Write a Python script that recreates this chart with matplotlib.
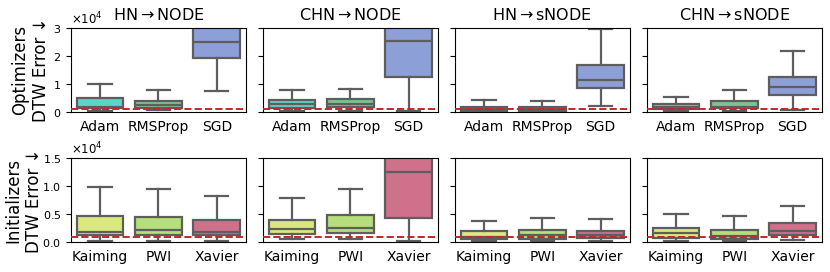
import numpy as np
import matplotlib
matplotlib.use("Agg")
import matplotlib.pyplot as plt
from matplotlib.ticker import ScalarFormatter

titles = [r"HN$\rightarrow$NODE", r"CHN$\rightarrow$NODE", r"HN$\rightarrow$sNODE", r"CHN$\rightarrow$sNODE"]

optimizers = ["Adam", "RMSProp", "SGD"]
opt_colors = ["#5ad6c6", "#7cc590", "#8c9fd6"]
initializers = ["Kaiming", "PWI", "Xavier"]
init_colors = ["#dbe87d", "#b6df7b", "#d0718b"]

# box stats per panel: (whislo, q1, med, q3, whishi), units of 1e4
opt_stats = [
    [(0.02, 0.12, 0.18, 0.48, 1.00), (0.05, 0.13, 0.25, 0.37, 0.76), (0.73, 1.91, 2.50, 3.60, 4.50)],
    [(0.02, 0.13, 0.26, 0.42, 0.79), (0.03, 0.16, 0.28, 0.46, 0.83), (0.04, 1.24, 2.54, 3.60, 5.00)],
    [(0.01, 0.04, 0.10, 0.18, 0.40), (0.01, 0.04, 0.10, 0.18, 0.37), (0.20, 0.84, 1.13, 1.68, 2.95)],
    [(0.01, 0.08, 0.17, 0.26, 0.52), (0.03, 0.13, 0.17, 0.37, 0.77), (0.05, 0.58, 0.89, 1.25, 2.19)],
]
init_stats = [
    [(0.02, 0.12, 0.18, 0.46, 0.99), (0.02, 0.13, 0.22, 0.45, 0.95), (0.02, 0.12, 0.18, 0.40, 0.82)],
    [(0.05, 0.14, 0.24, 0.40, 0.79), (0.05, 0.16, 0.26, 0.48, 0.95), (0.02, 0.43, 1.26, 2.00, 3.00)],
    [(0.02, 0.05, 0.10, 0.19, 0.38), (0.02, 0.06, 0.12, 0.21, 0.44), (0.02, 0.07, 0.12, 0.20, 0.41)],
    [(0.02, 0.07, 0.16, 0.25, 0.50), (0.02, 0.06, 0.11, 0.22, 0.46), (0.03, 0.13, 0.20, 0.34, 0.65)],
]
baseline = 0.1  # red dashed reference, 1e4

fig, axes = plt.subplots(2, 4, figsize=(8.3, 2.72), dpi=100, sharey="row")
fig.subplots_adjust(left=0.0855, right=0.99, top=0.897, bottom=0.11, wspace=0.097, hspace=0.56)

edge = "#5e5e5e"

def draw(ax, stats, labels, colors, ymax):
    bx = []
    for lab, s in zip(labels, stats):
        lo, q1, med, q3, hi = [v * 1e4 for v in s]
        bx.append(dict(label=lab, whislo=lo, q1=q1, med=med, q3=q3, whishi=hi, fliers=[]))
    b = ax.bxp(bx, positions=range(len(bx)), widths=0.8, patch_artist=True, showfliers=False,
               boxprops=dict(edgecolor=edge, linewidth=1.6),
               medianprops=dict(color=edge, linewidth=1.6),
               whiskerprops=dict(color=edge, linewidth=1.6),
               capprops=dict(color=edge, linewidth=1.6), capwidths=0.4)
    for p, c in zip(b["boxes"], colors):
        p.set_facecolor(c)
    ax.axhline(baseline * 1e4, color="#c0282d", linestyle="--", linewidth=1.4, zorder=5)
    ax.set_xlim(-0.5, len(bx) - 0.5)
    ax.set_ylim(0, ymax)
    ax.tick_params(axis="x", labelsize=10, length=0, pad=6)
    ax.tick_params(axis="y", labelsize=8)

for i in range(4):
    draw(axes[0, i], opt_stats[i], optimizers, opt_colors, 3e4)
    axes[0, i].set_title(titles[i], fontsize=11.5, pad=6)
    draw(axes[1, i], init_stats[i], initializers, init_colors, 1.5e4)

axes[0, 0].set_yticks([0, 1e4, 2e4, 3e4])
axes[1, 0].set_yticks([0, 0.5e4, 1.0e4, 1.5e4])
for ax in axes[:, 0]:
    fmt = ScalarFormatter(useMathText=True)
    fmt.set_powerlimits((0, 0))
    ax.yaxis.set_major_formatter(fmt)
    ax.yaxis.get_offset_text().set_fontsize(8.5)

axes[0, 0].set_ylabel("Optimizers\nDTW Error ↓", fontsize=12)
axes[1, 0].set_ylabel("Initializers\nDTW Error ↓", fontsize=12)
axes[0, 0].yaxis.set_label_coords(-0.12, 0.5)
axes[1, 0].yaxis.set_label_coords(-0.16, 0.5)

fig.savefig("out.png", dpi=100)
